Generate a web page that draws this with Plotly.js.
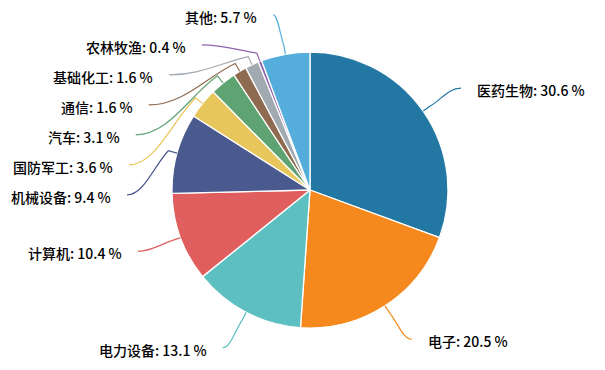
<!DOCTYPE html>
<html>
<head>
<meta charset="utf-8">
<script src="https://cdn.plot.ly/plotly-3.0.1.min.js"></script>
<style>html,body{margin:0;padding:0;background:#fff;}#chart{width:605px;height:370px;}</style>
</head>
<body>
<div id="chart"></div>
<script>
// ---- data ----
const categories = ['医药生物', '电子', '电力设备', '计算机', '机械设备', '国防军工', '汽车', '通信', '基础化工', '农林牧渔', '其他'];
const values = [30.6, 20.5, 13.1, 10.4, 9.4, 3.6, 3.1, 1.6, 1.6, 0.4, 5.7];
const colors = ['#2277a3', '#f5891d', '#5ebfc1', '#e05e5e', '#4b5a8e', '#e7c65b', '#5fa373', '#8e6b50', '#a1a9b1', '#8f62ac', '#55addc'];

// ---- layout constants ----
const W = 605, H = 370;
const CX = 310, CY = 190, R = 138;
const LEN1 = 9, LEN = 40, LEN2 = 5, GAP = 30, TEXT_GAP = 14;

const domX = [(CX - R) / W, (CX + R) / W];
const domY = [1 - (CY + R) / H, 1 - (CY - R) / H];

const px = x => x / W;
const py = y => 1 - y / H;

// ---- label layout derived from the data ----
const total = values.reduce((a, b) => a + b, 0);
let cum = 0;
const items = values.map((v, i) => {
  const mid = (cum + v / 2) / total * 2 * Math.PI;
  cum += v;
  const sx = Math.sin(mid), sy = -Math.cos(mid);
  return {
    i, sx, sy,
    dir: sx < 0 ? -1 : 1,
    p0: [CX + R * sx, CY + R * sy],
    p1: [CX + (R + LEN1) * sx, CY + (R + LEN1) * sy],
    ny: CY + (R + LEN) * sy,
    ndx: Math.abs((R + LEN) * sx),
    y: CY + (R + LEN) * sy
  };
});

[-1, 1].forEach(dir => {
  const side = items.filter(it => it.dir === dir).sort((a, b) => a.ny - b.ny);
  for (let k = 1; k < side.length; k++) {
    if (side[k].y < side[k - 1].y + GAP) side[k].y = side[k - 1].y + GAP;
  }
  [0, 1].forEach(bottom => {
    const semi = side.filter(it => (it.y >= CY) === !!bottom);
    if (!semi.length) return;
    let top = semi[0];
    semi.forEach(it => { if (Math.abs(it.y - CY) >= Math.abs(top.y - CY)) top = it; });
    const rA = R + LEN;
    const dyT = Math.abs(top.y - CY);
    const rB = top.ndx < rA ? Math.sqrt(dyT * dyT / (1 - top.ndx * top.ndx / (rA * rA))) : rA;
    semi.forEach(it => {
      const dy = Math.abs(it.y - CY);
      const dx = Math.sqrt(Math.max(0, 1 - dy * dy / (rB * rB))) * rA;
      it.x = CX + dir * (dx + LEN2);
    });
  });
});

const shapes = [];
const annotations = [];
items.forEach(it => {
  const p0 = it.p0, p1 = it.p1, p2 = [it.x, it.y];
  const c1 = [p1[0] + (p2[0] - p1[0]) * 0.35, p1[1] + (p2[1] - p1[1]) * 0.35];
  const c2 = [p2[0] + (p1[0] - p2[0]) * 0.4, p2[1]];
  const f = p => px(p[0]).toFixed(5) + ',' + py(p[1]).toFixed(5);
  shapes.push({
    type: 'path', xref: 'paper', yref: 'paper',
    path: 'M' + f(p0) + ' L' + f(p1) + ' C' + f(c1) + ' ' + f(c2) + ' ' + f(p2),
    line: { color: colors[it.i], width: 1.2 }
  });
  annotations.push({
    xref: 'paper', yref: 'paper', showarrow: false,
    x: px(it.x + it.dir * TEXT_GAP), y: py(it.y + 2),
    xanchor: it.dir < 0 ? 'right' : 'left', yanchor: 'middle',
    text: categories[it.i] + ': ' + values[it.i].toFixed(1) + ' %',
    font: { family: '"Noto Sans CJK SC", "Noto Sans", sans-serif', size: 14, color: '#000', weight: 500 }
  });
});

const data = [{
  type: 'pie',
  labels: categories,
  values: values,
  sort: false,
  direction: 'clockwise',
  rotation: 0,
  textinfo: 'none',
  hoverinfo: 'label+percent',
  marker: { colors: colors, line: { color: '#ffffff', width: 1.3 } },
  domain: { x: domX, y: domY },
  showlegend: false
}];

const layout = {
  width: W, height: H,
  margin: { l: 0, r: 0, t: 0, b: 0 },
  paper_bgcolor: '#ffffff',
  showlegend: false,
  shapes: shapes,
  annotations: annotations
};

Plotly.newPlot('chart', data, layout, { staticPlot: true, displayModeBar: false });
</script>
</body>
</html>
